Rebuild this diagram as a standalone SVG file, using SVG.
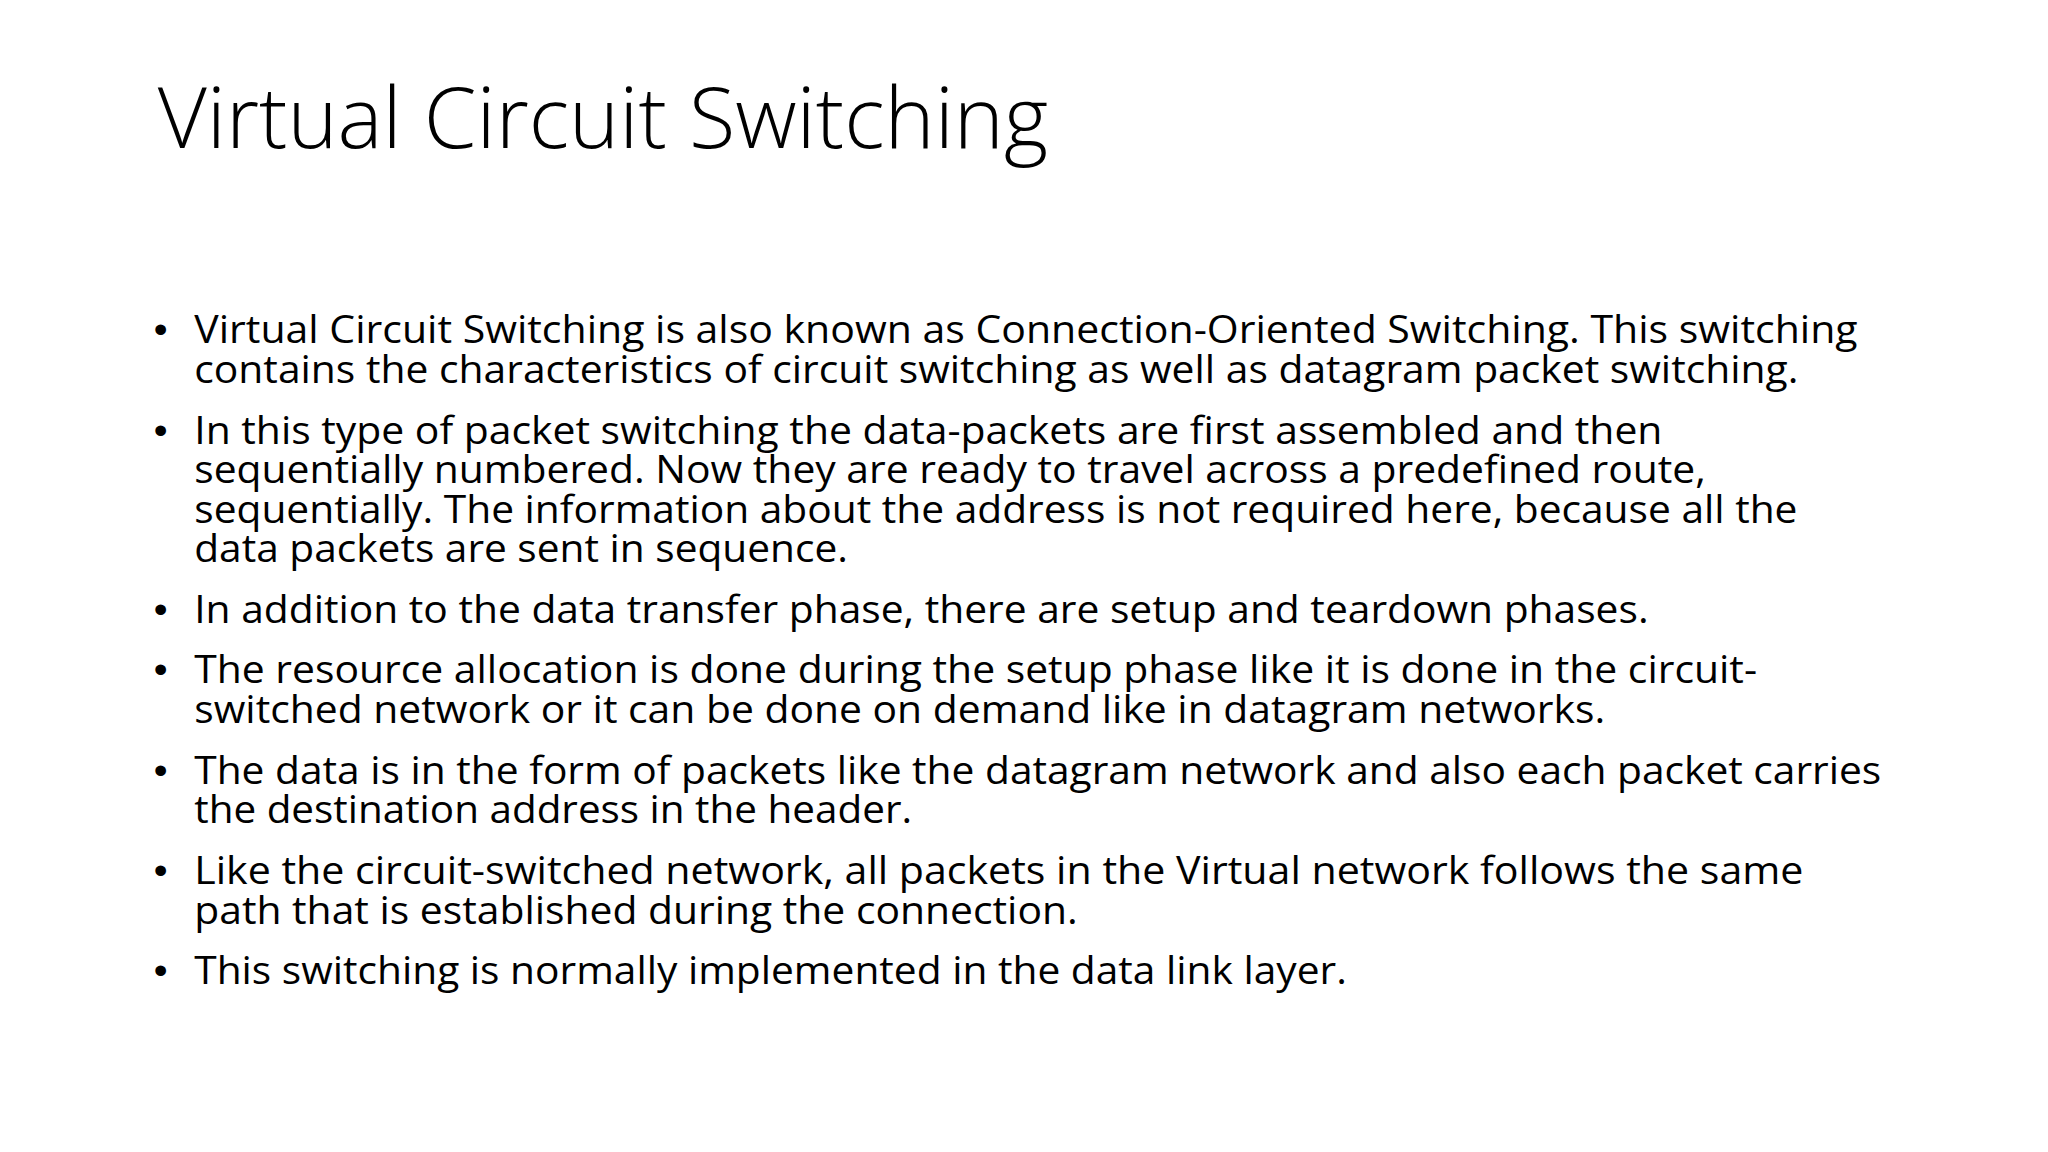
<svg xmlns="http://www.w3.org/2000/svg" width="2048" height="1152" viewBox="0 0 2048 1152">
<style>
.t{font-family:"Open Sans","Liberation Sans",sans-serif;font-weight:300;font-size:86px;fill:#000}
.b{font-family:"Open Sans","Liberation Sans",sans-serif;font-size:38px;fill:#000}
.d{font-family:"Liberation Sans",sans-serif;font-size:40px;fill:#000}
</style>
<rect width="2048" height="1152" fill="#fff"/>
<g transform="scale(0.986)">
<g id="title"><text class="t" x="160" y="150" textLength="903" lengthAdjust="spacingAndGlyphs">Virtual Circuit Switching</text></g>
<g id="body">
<text class="d" x="156" y="348">•</text>
<text class="b" x="197" y="348" textLength="1687" lengthAdjust="spacingAndGlyphs">Virtual Circuit Switching is also known as Connection-Oriented Switching. This switching</text>
<text class="b" x="197" y="388" textLength="1627" lengthAdjust="spacingAndGlyphs">contains the characteristics of circuit switching as well as datagram packet switching.</text>
<text class="d" x="156" y="450">•</text>
<text class="b" x="197" y="450" textLength="1489" lengthAdjust="spacingAndGlyphs">In this type of packet switching the data-packets are first assembled and then</text>
<text class="b" x="197" y="490" textLength="1533" lengthAdjust="spacingAndGlyphs">sequentially numbered. Now they are ready to travel across a predefined route,</text>
<text class="b" x="197" y="530" textLength="1626" lengthAdjust="spacingAndGlyphs">sequentially. The information about the address is not required here, because all the</text>
<text class="b" x="197" y="570" textLength="663" lengthAdjust="spacingAndGlyphs">data packets are sent in sequence.</text>
<text class="d" x="156" y="632">•</text>
<text class="b" x="197" y="632" textLength="1475" lengthAdjust="spacingAndGlyphs">In addition to the data transfer phase, there are setup and teardown phases.</text>
<text class="d" x="156" y="693">•</text>
<text class="b" x="197" y="693" textLength="1585" lengthAdjust="spacingAndGlyphs">The resource allocation is done during the setup phase like it is done in the circuit-</text>
<text class="b" x="197" y="733" textLength="1431" lengthAdjust="spacingAndGlyphs">switched network or it can be done on demand like in datagram networks.</text>
<text class="d" x="156" y="795">•</text>
<text class="b" x="197" y="795" textLength="1711" lengthAdjust="spacingAndGlyphs">The data is in the form of packets like the datagram network and also each packet carries</text>
<text class="b" x="197" y="835" textLength="728" lengthAdjust="spacingAndGlyphs">the destination address in the header.</text>
<text class="d" x="156" y="897">•</text>
<text class="b" x="197" y="897" textLength="1632" lengthAdjust="spacingAndGlyphs">Like the circuit-switched network, all packets in the Virtual network follows the same</text>
<text class="b" x="197" y="937" textLength="896" lengthAdjust="spacingAndGlyphs">path that is established during the connection.</text>
<text class="d" x="156" y="998">•</text>
<text class="b" x="197" y="998" textLength="1169" lengthAdjust="spacingAndGlyphs">This switching is normally implemented in the data link layer.</text>
</g>
</g>
</svg>
